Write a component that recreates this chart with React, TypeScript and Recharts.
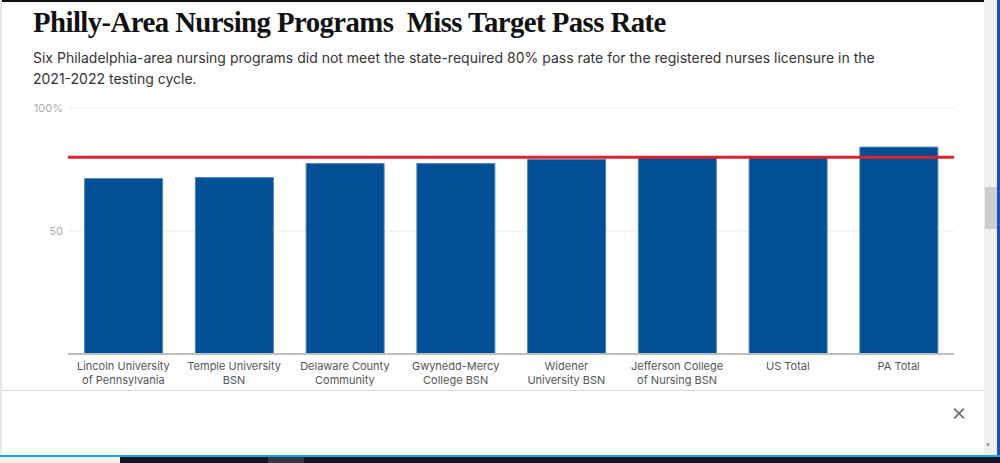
import {
  BarChart,
  Bar,
  XAxis,
  YAxis,
  CartesianGrid,
  ReferenceLine,
} from "recharts";

const programs = [
  "Lincoln University\nof Pennsylvania\nBSN",
  "Temple University\nBSN",
  "Delaware County\nCommunity\nCollege ASN",
  "Gwynedd-Mercy\nCollege BSN",
  "Widener\nUniversity BSN",
  "Jefferson College\nof Nursing BSN",
  "US Total",
  "PA Total",
];
const passRates = [71.3, 71.7, 77.4, 77.4, 79.1, 79.9, 79.9, 84.1];
const yTicks = [50, 100];
const targetRate = 80;

const data = programs.map((name, i) => ({ name, rate: passRates[i] }));

const SANS = "Inter, 'Noto Sans', sans-serif";

function CategoryTick({ x, y, payload }: any) {
  const lines = String(payload.value).split("\n");
  return (
    <text x={x} y={y} textAnchor="middle" fill="#555" fontSize={11} fontFamily={SANS}>
      {lines.map((line, i) => (
        <tspan key={i} x={x} dy={i === 0 ? 10 : 14}>
          {line}
        </tspan>
      ))}
    </text>
  );
}

export default function App() {
  return (
    <div
      style={{
        position: "fixed",
        left: 0,
        top: 0,
        width: 1000,
        height: 463,
        overflow: "hidden",
        background: "#fff",
      }}
    >
      {/* top rule */}
      <div style={{ position: "absolute", left: 0, top: 0, width: 984, height: 2, background: "#111" }} />
      {/* left edge */}
      <div style={{ position: "absolute", left: 0, top: 0, width: 2, height: 455, background: "#e6e6e6" }} />

      <div
        style={{
          position: "absolute",
          left: 33,
          top: 5,
          fontFamily: "'Liberation Serif', serif",
          fontWeight: 700,
          fontSize: 30,
          color: "#111",
          whiteSpace: "pre",
          letterSpacing: -0.6,
          transform: "scaleX(0.96)",
          transformOrigin: "left top",
        }}
      >
        {"Philly-Area Nursing Programs  Miss Target Pass Rate"}
      </div>
      <div
        style={{
          position: "absolute",
          left: 33,
          top: 47,
          width: 870,
          fontFamily: SANS,
          fontSize: 14,
          lineHeight: "21px",
          color: "#333",
        }}
      >
        Six Philadelphia-area nursing programs did not meet the state-required 80% pass rate for the
        registered nurses licensure in the 2021-2022 testing cycle.
      </div>

      <div style={{ position: "absolute", left: 0, top: 0 }}>
        <BarChart
          width={1000}
          height={440}
          data={data}
          margin={{ top: 108, right: 46, left: 0, bottom: 26 }}
          barCategoryGap="15%"
        >
          <CartesianGrid vertical={false} stroke="#ebebeb" />
          <XAxis
            dataKey="name"
            interval={0}
            tickLine={false}
            tickSize={4}
            height={60}
            axisLine={{ stroke: "#bdbdbd", strokeWidth: 2 }}
            tick={<CategoryTick />}
          />
          <YAxis
            domain={[0, 100]}
            ticks={yTicks}
            width={68}
            axisLine={false}
            tickLine={false}
            tickSize={3}
            tickMargin={2}
            tick={{ fill: "#aaa", fontSize: 11, fontFamily: SANS }}
            tickFormatter={(v: number) => (v === 100 ? "100%" : String(v))}
          />
          <Bar
            dataKey="rate"
            fill="#034f96"
            stroke="#4f83bb"
            strokeWidth={1}
            isAnimationActive={false}
          />
          <ReferenceLine y={targetRate} stroke="#e0202a" strokeWidth={3} />
        </BarChart>
      </div>

      {/* bottom overlay */}
      <div
        style={{
          position: "absolute",
          left: 2,
          top: 390,
          width: 982,
          height: 65,
          background: "#fff",
          borderTop: "1px solid #d6d6d6",
        }}
      >
        <div
          style={{
            position: "absolute",
            left: 949,
            top: 6,
            fontFamily: SANS,
            fontSize: 24,
            color: "#777",
            lineHeight: "30px",
          }}
        >
          ×
        </div>
      </div>

      {/* scrollbar */}
      <div style={{ position: "absolute", left: 984, top: 0, width: 13, height: 455, background: "#f0f0f0" }} />
      <div style={{ position: "absolute", left: 985, top: 187, width: 12, height: 42, background: "#cdcdcd" }} />
      <div
        style={{
          position: "absolute",
          left: 986,
          top: 440,
          fontSize: 9,
          color: "#666",
          fontFamily: SANS,
        }}
      >
        ˅
      </div>
      <div style={{ position: "absolute", left: 997, top: 0, width: 3, height: 455, background: "#1a4fc0" }} />

      {/* taskbar strip */}
      <div style={{ position: "absolute", left: 0, top: 455, width: 1000, height: 2, background: "#1e9ee6" }} />
      <div style={{ position: "absolute", left: 0, top: 457, width: 1000, height: 6, background: "#0b1820" }} />
      <div style={{ position: "absolute", left: 0, top: 457, width: 120, height: 6, background: "#f2f2f2" }} />
      <div style={{ position: "absolute", left: 268, top: 457, width: 36, height: 6, background: "#2e3d45" }} />
    </div>
  );
}
